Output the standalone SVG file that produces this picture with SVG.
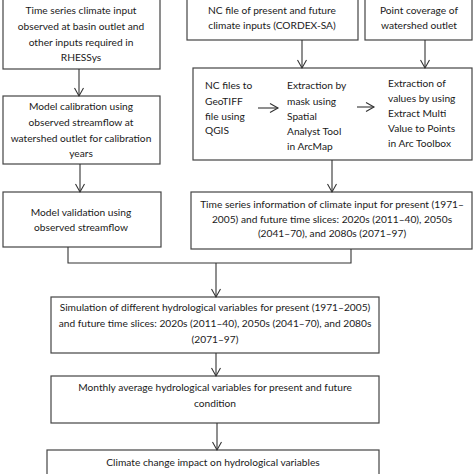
<svg xmlns="http://www.w3.org/2000/svg" width="474" height="474" viewBox="0 0 474 474">
<defs>
<marker id="arr" markerWidth="12" markerHeight="12" refX="10" refY="6" orient="auto" markerUnits="userSpaceOnUse">
<path d="M2,1.5 L10,6 L2,10.5" fill="none" stroke="#333" stroke-width="1.1"/>
</marker>
<style>
.box{fill:#fff;stroke:#444;stroke-width:1.2}
.t{font-family:Lato,"Liberation Sans",sans-serif;font-size:10.2px;fill:#1a1a1a}
.c{text-anchor:middle}
.ln{fill:none;stroke:#333;stroke-width:1.1}
</style>
</defs>
<rect width="474" height="474" fill="#fff"/>
<g id="n1"><rect class="box" x="3" y="-1" width="157" height="70"/>
<text class="t c" x="81" y="14">Time series climate input</text>
<text class="t c" x="81" y="30">observed at basin outlet and</text>
<text class="t c" x="81" y="46">other inputs required in</text>
<text class="t c" x="81" y="61">RHESSys</text></g>
<g id="n2"><rect class="box" x="187" y="-1" width="171" height="41"/>
<text class="t c" x="272" y="14">NC file of present and future</text>
<text class="t c" x="272" y="29">climate inputs (CORDEX-SA)</text></g>
<g id="n3"><rect class="box" x="365" y="-1" width="107" height="41"/>
<text class="t c" x="419" y="14">Point coverage of</text>
<text class="t c" x="419" y="29">watershed outlet</text></g>
<g id="n4"><rect class="box" x="193" y="68" width="279" height="92"/>
<text class="t" x="205" y="89">NC files to</text>
<text class="t" x="205" y="105">GeoTIFF</text>
<text class="t" x="205" y="120">file using</text>
<text class="t" x="205" y="134">QGIS</text>
<text class="t" x="287" y="89">Extraction by</text>
<text class="t" x="287" y="105">mask using</text>
<text class="t" x="287" y="120">Spatial</text>
<text class="t" x="287" y="135">Analyst Tool</text>
<text class="t" x="287" y="150">in ArcMap</text>
<text class="t" x="388" y="87">Extraction of</text>
<text class="t" x="388" y="102">values by using</text>
<text class="t" x="388" y="117">Extract Multi</text>
<text class="t" x="388" y="132">Value to Points</text>
<text class="t" x="388" y="147">in Arc Toolbox</text></g>
<g id="n5"><rect class="box" x="3" y="96" width="157" height="68"/>
<text class="t c" x="81" y="110">Model calibration using</text>
<text class="t c" x="81" y="126">observed streamflow at</text>
<text class="t c" x="81" y="142">watershed outlet for calibration</text>
<text class="t c" x="81" y="157">years</text></g>
<g id="n6"><rect class="box" x="3" y="192" width="158" height="55"/>
<text class="t c" x="81" y="216">Model validation using</text>
<text class="t c" x="81" y="231">observed streamflow</text></g>
<g id="n7"><rect class="box" x="191" y="192" width="281" height="57"/>
<text class="t c" x="332" y="208">Time series information of climate input for present (1971–</text>
<text class="t c" x="332" y="223">2005) and future time slices: 2020s (2011–40), 2050s</text>
<text class="t c" x="332" y="237">(2041–70), and 2080s (2071–97)</text></g>
<g id="n8"><rect class="box" x="51" y="297" width="328" height="56"/>
<text class="t c" x="215" y="311">Simulation of different hydrological variables for present (1971–2005)</text>
<text class="t c" x="215" y="327">and future time slices: 2020s (2011–40), 2050s (2041–70), and 2080s</text>
<text class="t c" x="215" y="343">(2071–97)</text></g>
<g id="n9"><rect class="box" x="51" y="376" width="328" height="47"/>
<text class="t c" x="215" y="391">Monthly average hydrological variables for present and future</text>
<text class="t c" x="215" y="407">condition</text></g>
<g id="n10"><rect class="box" x="47" y="450" width="332" height="30"/>
<text class="t c" x="213" y="466">Climate change impact on hydrological variables</text></g>
<g id="connectors">
<line class="ln" x1="79" y1="69" x2="79" y2="96" marker-end="url(#arr)"/>
<line class="ln" x1="302" y1="40" x2="302" y2="68" marker-end="url(#arr)"/>
<line class="ln" x1="425" y1="40" x2="425" y2="68" marker-end="url(#arr)"/>
<line class="ln" x1="258" y1="108" x2="278" y2="108" marker-end="url(#arr)"/>
<line class="ln" x1="357" y1="107" x2="374" y2="107" marker-end="url(#arr)"/>
<line class="ln" x1="80" y1="164" x2="80" y2="192" marker-end="url(#arr)"/>
<line class="ln" x1="332" y1="160" x2="332" y2="192" marker-end="url(#arr)"/>
<polyline class="ln" points="68,247 68,263 351,263 351,249"/>
<line class="ln" x1="216" y1="263" x2="216" y2="297" marker-end="url(#arr)"/>
<line class="ln" x1="216" y1="353" x2="216" y2="376" marker-end="url(#arr)"/>
<line class="ln" x1="217" y1="423" x2="217" y2="450" marker-end="url(#arr)"/>
</g>
</svg>
